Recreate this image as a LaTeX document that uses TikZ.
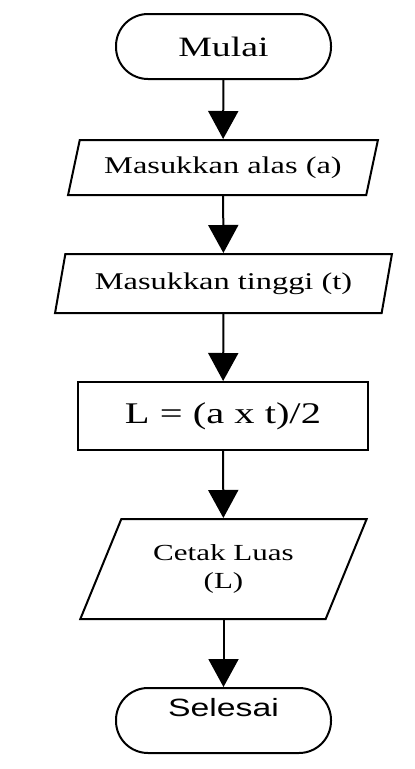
\documentclass[tikz,border=0pt]{standalone}
\usepackage{fontspec}
\setmainfont{Liberation Serif}[FakeStretch=1.35]
\newfontfamily\selfont{Liberation Sans}[FakeStretch=1.35]
\usetikzlibrary{shapes.geometric,arrows.meta}

\begin{document}
\begin{tikzpicture}[x=1pt, y=-1pt, line width=2pt,
  terminal/.style={draw, rectangle, rounded corners=32pt, minimum width=215pt, minimum height=65pt, inner sep=0pt},
  io/.style={draw, trapezium, trapezium stretches=true, inner sep=0pt},
  process/.style={draw, rectangle, minimum width=290pt, minimum height=68pt, inner sep=0pt},
  flow/.style={-{Triangle[width=30pt,length=28pt]}}]
  \useasboundingbox (0,0) rectangle (415,769);
  \node [terminal, font=\fontsize{28}{32}\selectfont] (mulai) at (223.5,46.5) {Mulai};
  \node [io, trapezium left angle=66, trapezium right angle=114, minimum width=310pt, minimum height=55pt,
    font=\fontsize{24}{28}\selectfont] (alas) at (223,167.5) {Masukkan alas (a)};
  \node [io, trapezium left angle=69, trapezium right angle=111, minimum width=337pt, minimum height=59pt,
    font=\fontsize{24}{28}\selectfont] (tinggi) at (223.5,283.5) {Masukkan tinggi (t)};
  \node [process, font=\fontsize{30}{34}\selectfont] (hitung) at (223,416) {L = (a x t)/2};
  \node [io, trapezium left angle=60, trapezium right angle=120, minimum width=287pt, minimum height=100pt,
    align=center, font=\fontsize{23}{28}\selectfont] (cetak) at (223.5,569) {Cetak Luas\\(L)};
  \node [terminal, text height=18pt, text depth=26pt, font=\selfont\fontsize{25}{29}\selectfont] (selesai) at (223.5,720.5) {Selesai};
  \draw [flow] (mulai) -- (alas);
  \draw [flow] (alas) -- (tinggi);
  \draw [flow] (tinggi) -- (hitung);
  \draw [flow] (hitung) -- (cetak);
  \draw [flow] (cetak) -- (selesai);
\end{tikzpicture}
\end{document}
